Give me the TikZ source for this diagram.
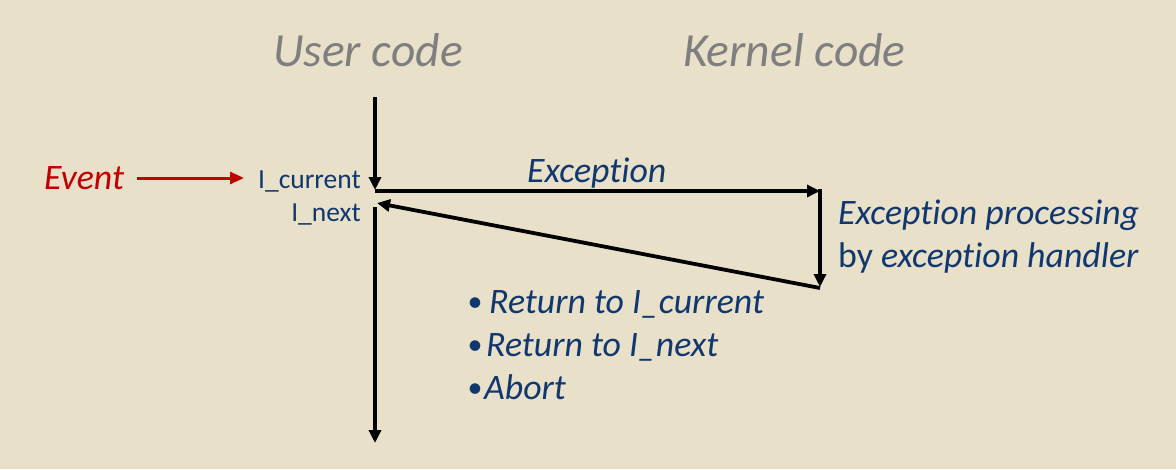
\documentclass[tikz,border=0pt]{standalone}
\usepackage{fontspec}
\setmainfont{Carlito}[Ligatures=NoCommon]
\usetikzlibrary{arrows.meta}
\definecolor{bg}{RGB}{233,224,202}
\definecolor{txtblue}{RGB}{16,56,110}
\definecolor{hdrgrey}{RGB}{127,127,127}
\definecolor{evred}{RGB}{192,0,0}
\begin{document}
\begin{tikzpicture}[x=1pt,y=-1pt,
  flow/.style={line width=3.8pt,-{Triangle[length=13pt,width=12pt]}},
  evarrow/.style={draw=evred,line width=3pt,-{Triangle[length=14pt,width=12pt]}},
  header/.style={inner sep=0pt,text=hdrgrey,font=\fontsize{47.5}{52}\selectfont\itshape},
  lbl/.style={inner sep=0pt,text=txtblue,font=\fontsize{27.5}{30}\selectfont},
  body/.style={inner sep=0pt,text=txtblue,font=\fontsize{35.8}{40}\selectfont\itshape},
  bul/.style={inner sep=0pt,text=txtblue,font=\fontsize{30}{36}\selectfont}]
\fill[bg] (0,0) rectangle (1176,469);
\useasboundingbox (0,0) rectangle (1176,469);

\node[header,anchor=base west] (user) at (273,66) {User code};
\node[header,anchor=base west] (kernel) at (683,66) {Kernel code};

\node[body,anchor=base west,text=evred] (event) at (44,189) {Event};
\node[lbl,anchor=base east] (icur) at (361,188) {I\_current};
\node[lbl,anchor=base east] (inext) at (361,221) {I\_next};

\node[body,anchor=base west] (exc) at (527,182) {Exception};
\node[body,anchor=base west] (proc1) at (838,224) {Exception processing};
\node[body,anchor=base west] (proc2) at (838,267) {\upshape by \itshape exception handler};

\node[bul,anchor=base] (b1) at (475,311) {•};
\node[bul,anchor=base] (b2) at (475,354) {•};
\node[bul,anchor=base] (b3) at (475,397) {•};
\node[body,anchor=base west] (r1) at (489,313) {Return to I\_current};
\node[body,anchor=base west] (r2) at (486,356) {Return to I\_next};
\node[body,anchor=base west] (r3) at (484,399) {Abort};

\coordinate (utop) at (375,97);
\coordinate (ucur) at (375,190);
\coordinate (hstart) at (375,191);
\coordinate (kcur) at (820,191);
\coordinate (kstart) at (820,189.2);
\coordinate (kend) at (820,287);
\coordinate (kdiag) at (820,288);
\coordinate (unext) at (377,203);
\coordinate (ubot0) at (375,207);
\coordinate (ubot) at (375,443);
\coordinate (evs) at (137,178);
\coordinate (eve) at (244,178);

\draw[flow] (utop) -- (ucur);
\draw[flow] (hstart) -- (kcur);
\draw[flow] (kstart) -- (kend);
\draw[flow] (kdiag) -- (unext);
\draw[flow] (ubot0) -- (ubot);
\draw[evarrow] (evs) -- (eve);
\end{tikzpicture}
\end{document}
